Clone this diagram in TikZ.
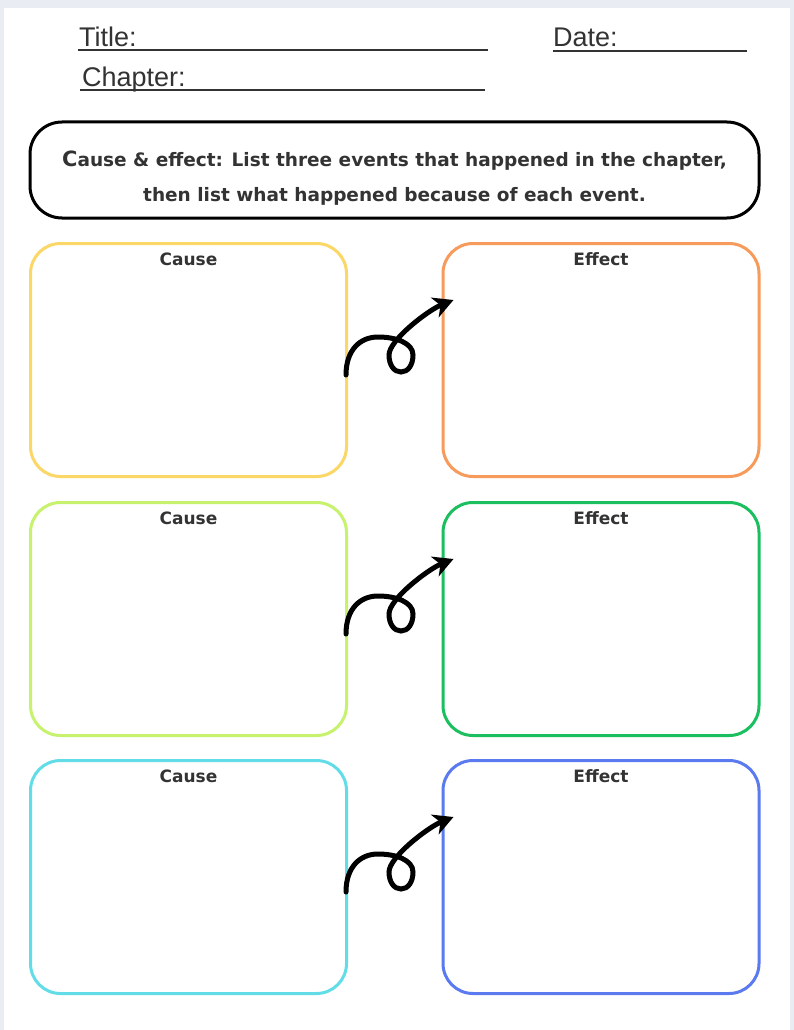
\documentclass[tikz,border=0pt]{standalone}
\usepackage{fontspec}
\setmainfont{Liberation Sans}
\newfontfamily\djb{DejaVu Sans}
\usetikzlibrary{arrows.meta}
\definecolor{bg}{HTML}{E9ECF2}
\definecolor{cy}{HTML}{FAD766}
\definecolor{co}{HTML}{F79B5C}
\definecolor{cg}{HTML}{C6F26E}
\definecolor{cG}{HTML}{1BBF5F}
\definecolor{cc}{HTML}{62DDE8}
\definecolor{cb}{HTML}{5B7AF0}
\definecolor{hd}{HTML}{333333}
\tikzset{
  box/.style={draw=#1,line width=3pt,rounded corners=30pt,minimum width=316pt,minimum height=233pt,inner sep=0pt},
  lbl/.style={font=\djb\fontsize{17}{19}\selectfont\bfseries,text=hd,inner sep=0pt},
  hdr/.style={font=\fontsize{27}{28}\selectfont,text=hd,anchor=base west,inner sep=0pt},
  uline/.style={line width=2pt,hd},
  swirl/.style={line width=5pt,line cap=round,-{Stealth[length=20pt,width=21pt,inset=6pt]}}
}
\begin{document}
\begin{tikzpicture}[x=1pt,y=-1pt]
\fill[bg] (0,0) rectangle (794,1030);
\fill[white] (4,8) rectangle (790,1030);
\useasboundingbox (0,0) rectangle (794,1030);
% header
\node[hdr] (t) at (79,47) {Title:};
\node[hdr] (d) at (553,47) {Date:};
\node[hdr] (ch) at (82,87) {Chapter:};
\coordinate (t1) at (78,50); \coordinate (t2) at (488,50);
\coordinate (d1) at (553,51); \coordinate (d2) at (747,51);
\coordinate (c1a) at (80,90); \coordinate (c1b) at (485,90);
\draw[uline] (t1) -- (t2);
\draw[uline] (d1) -- (d2);
\draw[uline] (c1a) -- (c1b);
% instruction
\node[draw=black,line width=3pt,rounded corners=32pt,minimum width=729pt,minimum height=96pt] (ins) at (394.5,170) {};
\node[align=center,font=\djb\fontsize{18.5}{35}\selectfont\bfseries,text=hd] (inst) at ([yshift=-8pt]ins.center)
  {{\fontsize{21}{20}\selectfont C}ause \& effect: List three events that happened in the chapter,\\ then list what happened because of each event.};
% boxes
\foreach \i/\y/\ca/\cb in {1/360/cy/co,2/619/cg/cG,3/877/cc/cb}{
  \node[box=\ca] (c\i) at (188.5,\y) {};
  \node[box=\cb] (e\i) at (601,\y) {};
  \node[lbl,anchor=base] (cl\i) at ([yshift=-23pt]c\i.north) {Cause};
  \node[lbl,anchor=base] (el\i) at ([yshift=-23pt]e\i.north) {Effect};
  \coordinate (s\i) at ([xshift=-2pt,yshift=-15pt]c\i.east);
  \coordinate (f\i) at ([xshift=12pt,yshift=60pt]e\i.west);
  \draw[swirl] (s\i) .. controls +(0,-25) and +(-18,0) .. ([shift={(32,-38)}]s\i)
     .. controls +(18,0) and +(0,-12) .. ([shift={(67,-20)}]s\i)
     .. controls +(0,10) and +(7,0) .. ([shift={(55,-3)}]s\i)
     .. controls +(-7,0) and +(0,10) .. ([shift={(43,-20)}]s\i)
     .. controls +(0,-15) and +(-25,10) .. (f\i);
}
\end{tikzpicture}
\end{document}
